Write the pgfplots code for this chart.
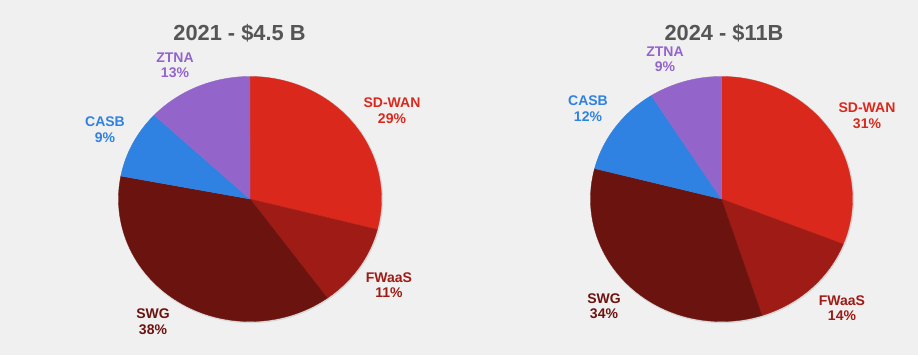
\documentclass[border=0pt]{standalone}
\usepackage{pgfplots}
\pgfplotsset{compat=1.18}
\usepackage{fontspec}
\setmainfont{Liberation Sans}
\definecolor{bg}{HTML}{F0F0F0}
\definecolor{sdwan}{HTML}{DA291C}
\definecolor{fwaas}{HTML}{9E1C15}
\definecolor{swg}{HTML}{6B130E}
\definecolor{casb}{HTML}{2F82E1}
\definecolor{ztna}{HTML}{9365CB}
\definecolor{titlegray}{HTML}{555555}
% slice: colour, centre x, centre y, start (cumulative %), end (cumulative %), x radius, y radius
\newcommand\slice[7]{%
  \addplot[fill=#1, draw=#1, line width=0.3pt, domain={90-3.6*(#4)}:{90-3.6*(#5)}, samples=60, variable=\t]
    ({#2+#6*cos(\t)}, {#3+#7*sin(\t)}) -- (axis cs:#2,#3) -- cycle;}
% soft rim behind a pie: centre x, centre y, x radius, y radius
\newcommand\rim[4]{%
  \addplot[draw=black, draw opacity=0.10, line width=2.2bp, domain=0:360, samples=120, variable=\t]
    ({#1+0.6+#3*cos(\t)}, {#2-0.6+#4*sin(\t)});}
\begin{document}
\begin{tikzpicture}[
  lab/.style={font=\fontsize{14bp}{15.5bp}\selectfont\bfseries, align=center, inner sep=0pt, anchor=center},
  ttl/.style={font=\fontsize{21.8bp}{25bp}\selectfont\bfseries, text=titlegray, inner sep=0pt, anchor=base}]
\fill[bg] (0,0) rectangle (918bp,355bp);
\begin{axis}[at={(0,0)}, anchor=origin, x=1bp, y=1bp,
  xmin=0, xmax=918, ymin=0, ymax=355, hide axis, clip=false]
\rim{250}{156}{131.5}{122.5}
\rim{721.5}{156}{131}{122.5}
% 2021 - $4.5 B : SD-WAN 29, FWaaS 11, SWG 38, CASB 9, ZTNA 13
\slice{sdwan}{250}{156}{0}{29}{131.5}{122.5}
\slice{fwaas}{250}{156}{29}{29+11}{131.5}{122.5}
\slice{swg}{250}{156}{29+11}{29+11+38}{131.5}{122.5}
\slice{casb}{250}{156}{29+11+38}{29+11+38+9}{131.5}{122.5}
\slice{ztna}{250}{156}{29+11+38+9}{29+11+38+9+13}{131.5}{122.5}
% 2024 - $11B : SD-WAN 31, FWaaS 14, SWG 34, CASB 12, ZTNA 9
\slice{sdwan}{721.5}{156}{0}{31}{131}{122.5}
\slice{fwaas}{721.5}{156}{31}{31+14}{131}{122.5}
\slice{swg}{721.5}{156}{31+14}{31+14+34}{131}{122.5}
\slice{casb}{721.5}{156}{31+14+34}{31+14+34+12}{131}{122.5}
\slice{ztna}{721.5}{156}{31+14+34+12}{31+14+34+12+9}{131}{122.5}
\node[ttl] at (axis cs:239.5,314.3) {2021 - \$4.5 B};
\node[ttl] at (axis cs:724,314.3) {2024 - \$11B};
\node[lab, text=sdwan] at (axis cs:392,244.5) {SD-WAN\\29\%};
\node[lab, text=fwaas] at (axis cs:389,70) {FWaaS\\11\%};
\node[lab, text=swg] at (axis cs:153,33.5) {SWG\\38\%};
\node[lab, text=casb] at (axis cs:105,225.5) {CASB\\9\%};
\node[lab, text=ztna] at (axis cs:175,289.5) {ZTNA\\13\%};
\node[lab, text=sdwan] at (axis cs:867,239.5) {SD-WAN\\31\%};
\node[lab, text=fwaas] at (axis cs:842,47) {FWaaS\\14\%};
\node[lab, text=swg] at (axis cs:604,49) {SWG\\34\%};
\node[lab, text=casb] at (axis cs:588,246.5) {CASB\\12\%};
\node[lab, text=ztna] at (axis cs:665,295.5) {ZTNA\\9\%};
\end{axis}
\end{tikzpicture}
\end{document}
